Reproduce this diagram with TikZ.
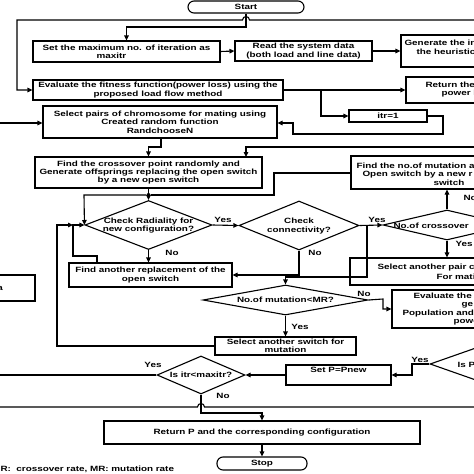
\documentclass[tikz,border=0pt]{standalone}
\usepackage{fontspec}
\setmainfont{Liberation Sans}[FakeStretch=1.3]
\usetikzlibrary{arrows.meta,shapes.geometric}
\newcommand{\ftx}{\fontsize{7.6}{8.4}\selectfont\bfseries}
\begin{document}
\begin{tikzpicture}[x=1pt,y=-1pt, line width=1.1pt,
  box/.style={draw, rectangle, inner sep=0pt, align=center, font=\ftx},
  term/.style={box, rounded corners=6pt},
  dia/.style={draw, diamond, inner sep=0pt},
  txt/.style={font=\ftx, align=center, inner sep=0pt},
  lbl/.style={font=\ftx, inner sep=0pt},
  arr/.style={-{Triangle[length=5pt,width=4.5pt]}},
  ]
\useasboundingbox (0,0) rectangle (474,474);
\clip (0,0) rectangle (474,474);

% ---------- nodes ----------
\node[term, minimum width=116pt, minimum height=12pt] (start) at (246,7) {Start};
\node[box, minimum width=187pt, minimum height=21pt] (setmax) at (126.5,51.5) {Set the maximum no. of iteration as\\maxitr\hspace*{30pt}};
\node[box, minimum width=137pt, minimum height=20pt] (read) at (303.5,51) {Read the system data\\(both load and line data)};
\node[box, minimum width=119pt, minimum height=32pt] (gen) at (460.5,51) {};
\node[lbl, anchor=west] (gent1) at (404,43) {Generate the in};
\node[lbl, anchor=west] (gent2) at (416,52) {the heuristic a};
\node[box, minimum width=250pt, minimum height=20pt] (eval) at (158,90) {Evaluate the fitness function(power loss) using the\\proposed load flow method};
\node[box, minimum width=114pt, minimum height=26pt] (ret) at (463,90) {};
\node[lbl, anchor=west] (rett1) at (425,85) {Return the};
\node[lbl, anchor=west] (rett2) at (441,94) {power l};
\node[box, minimum width=78pt, minimum height=12pt] (itr) at (388,116) {itr=1};
\node[box, minimum width=234pt, minimum height=32pt] (sel) at (160,122) {Select pairs of chromosome for mating using\\Created random function\\RandchooseN};
\node[box, minimum width=227pt, minimum height=31pt] (cross) at (148.5,172.5) {Find the crossover point randomly and\\Generate offsprings replacing the open switch\\by a new open switch};
\node[box, minimum width=194pt, minimum height=33pt] (mut) at (448,172.5) {};
\node[lbl, anchor=west] (mutt1) at (356,166) {Find the no.of mutation a};
\node[lbl, anchor=west] (mutt2) at (362,175) {Open switch by a new r};
\node[lbl, anchor=west] (mutt3) at (433,183) {switch};
\node[dia, minimum width=127pt, minimum height=49pt] (rad) at (148.5,225) {};
\node[txt] (radt) at (148.5,225.5) {Check Radiality for\\new configuration?};
\node[dia, minimum width=120pt, minimum height=49pt] (conn) at (299,225.5) {};
\node[txt] (connt) at (299,226) {Check\\connectivity?};
\node[dia, minimum width=128pt, minimum height=30pt] (cro) at (447,225) {};
\node[lbl, anchor=west] (crot) at (393,226) {No.of crossover};
\node[box, minimum width=163pt, minimum height=24pt] (findrep) at (150.5,275) {Find another replacement of the\\open switch};
\node[box, minimum width=170pt, minimum height=27pt] (selpair) at (435,271.5) {};
\node[lbl, anchor=west] (selpt1) at (377,268) {Select another pair c};
\node[lbl, anchor=west] (selpt2) at (436,277) {For mati};
\node[dia, minimum width=165pt, minimum height=30pt] (mutmr) at (285.5,300) {};
\node[txt] (mutmrt) at (285.5,300) {No.of mutation<MR?};
\node[box, minimum width=128pt, minimum height=38pt] (evalnew) at (456,309) {};
\node[lbl, anchor=west] (evt1) at (413,296) {Evaluate the};
\node[lbl, anchor=west] (evt2) at (461,305) {ge};
\node[lbl, anchor=west] (evt3) at (402,313.5) {Population and};
\node[lbl, anchor=west] (evt4) at (453,322.5) {power};
\node[box, minimum width=141pt, minimum height=18pt] (selsw) at (285.5,346) {Select another switch for\\mutation};
\node[dia, minimum width=96pt, minimum height=34pt] (isp) at (478,364) {};
\node[lbl, anchor=west] (ispt) at (457,365) {Is P};
\node[box, minimum width=105pt, minimum height=20pt,
      label={[lbl,anchor=north,yshift=-2.5pt]north:Set P=Pnew}] (setp) at (338.5,375) {};
\node[dia, minimum width=88pt, minimum height=38pt] (isitr) at (201,375) {};
\node[txt] (isitrt) at (201,375) {Is itr<maxitr?};
\node[box, minimum width=316pt, minimum height=23pt] (retp) at (262,432.5) {Return P and the corresponding configuration};
\node[term, minimum width=90pt, minimum height=13pt] (stop) at (262,463.5) {Stop};
\node[box, minimum width=65pt, minimum height=26pt] (leftbox) at (2.5,288) {};
\node[lbl, anchor=east] (leftt) at (3.5,288) {a};
\node[lbl, anchor=west] (note) at (0,469) {R:\ \ crossover rate, MR: mutation rate};
\node[circle, fill, inner sep=0pt, minimum size=4pt] (dot) at (148.5,195) {};

% ---------- free ends / bends ----------
\coordinate (topR) at (474,20);
\coordinate (leftIn) at (0,123);
\coordinate (loopR) at (474,147);
\coordinate (yesL) at (0,375);
\coordinate (botR) at (474,407);
\coordinate (botL) at (0,407);

% ---------- connectors ----------
\draw[arr] (start.south) -- (246,27) -| (setmax.north);
\draw[arr] (topR) -- (249.5,20) .. controls (249.5,15.5) and (242.5,15.5) .. (242.5,20) -- (17,20) |- (eval.west);
\draw[arr] (setmax.east) -- (read.west);
\draw[arr] (read.east) -- (read.east -| gen.west);
\draw[arr] (eval.east) -- (eval.east -| ret.west);
\draw[arr] (321,90) |- (itr.west);
\draw[arr] (itr.east) -- (443,116) -- (443,134) -- (293,134) -- (293,123) -- (sel.east |- 0,123);
\draw[arr] (leftIn) -- (sel.west |- leftIn);
\draw[arr] (161,138) -- (161,147) -- (148.5,147) -- (cross.north);
\draw[arr] (loopR) -- (246,147) -- (246,157);
\draw[arr] (cross.south) -- (rad.north);
\draw (mut.west |- 0,173) -- (274,173) -- (274,195) -- (dot);
\draw[arr] (dot) -- (84,195) -- (rad.west);
\draw[arr] (rad.east) -- (conn.west);
\draw[arr] (rad.south) -- (findrep.north -| rad.south);
\draw[arr] (97,263) -- (97,256) -- (73,256) -- (73,225) -- (rad.west);
\draw[arr] (selsw.west) -- (57,346) -- (57,225) -- (73,225);
\draw[arr] (conn.south) -- (299,275) -- (findrep.east);
\draw[arr] (conn.east) -- (cro.west);
\draw[arr] (367,225) -- (367,277) -- (285.5,277) -- (mutmr.north);
\draw[arr] (cro.north) -- (mut.south -| cro.north);
\draw[arr] (cro.south) -- (selpair.north -| cro.south);
\draw[arr] (mutmr.east) -- (383,299) -- (383,309) -- (evalnew.west);
\draw[arr] (mutmr.south) -- (selsw.north);
\draw[arr] (isp.west) -- (412,364) -- (412,375) -- (setp.east);
\draw[arr] (setp.west) -- (isitr.east);
\draw (isitr.west) -- (yesL);
\draw[arr] (isitr.south) -- (201,413) -- (262,413) -- (retp.north);
\draw (botR) -- (204.5,407) .. controls (204.5,402.5) and (197.5,402.5) .. (197.5,407) -- (botL);
\draw[arr] (retp.south) -- (stop.north);

% ---------- branch labels ----------
\node[lbl] (y1) at (223,219.5) {Yes};
\node[lbl] (n1) at (172,253) {No};
\node[lbl] (n2) at (315,253) {No};
\node[lbl] (y2) at (377,220) {Yes};
\node[lbl, anchor=west] (n3) at (463,198) {No};
\node[lbl, anchor=west] (y3) at (455,244) {Yes};
\node[lbl] (n4) at (364,294) {No};
\node[lbl] (y4) at (300,327) {Yes};
\node[lbl] (y5) at (420,359.5) {Yes};
\node[lbl] (y6) at (153,364.5) {Yes};
\node[lbl] (n5) at (223,396) {No};
\end{tikzpicture}
\end{document}
